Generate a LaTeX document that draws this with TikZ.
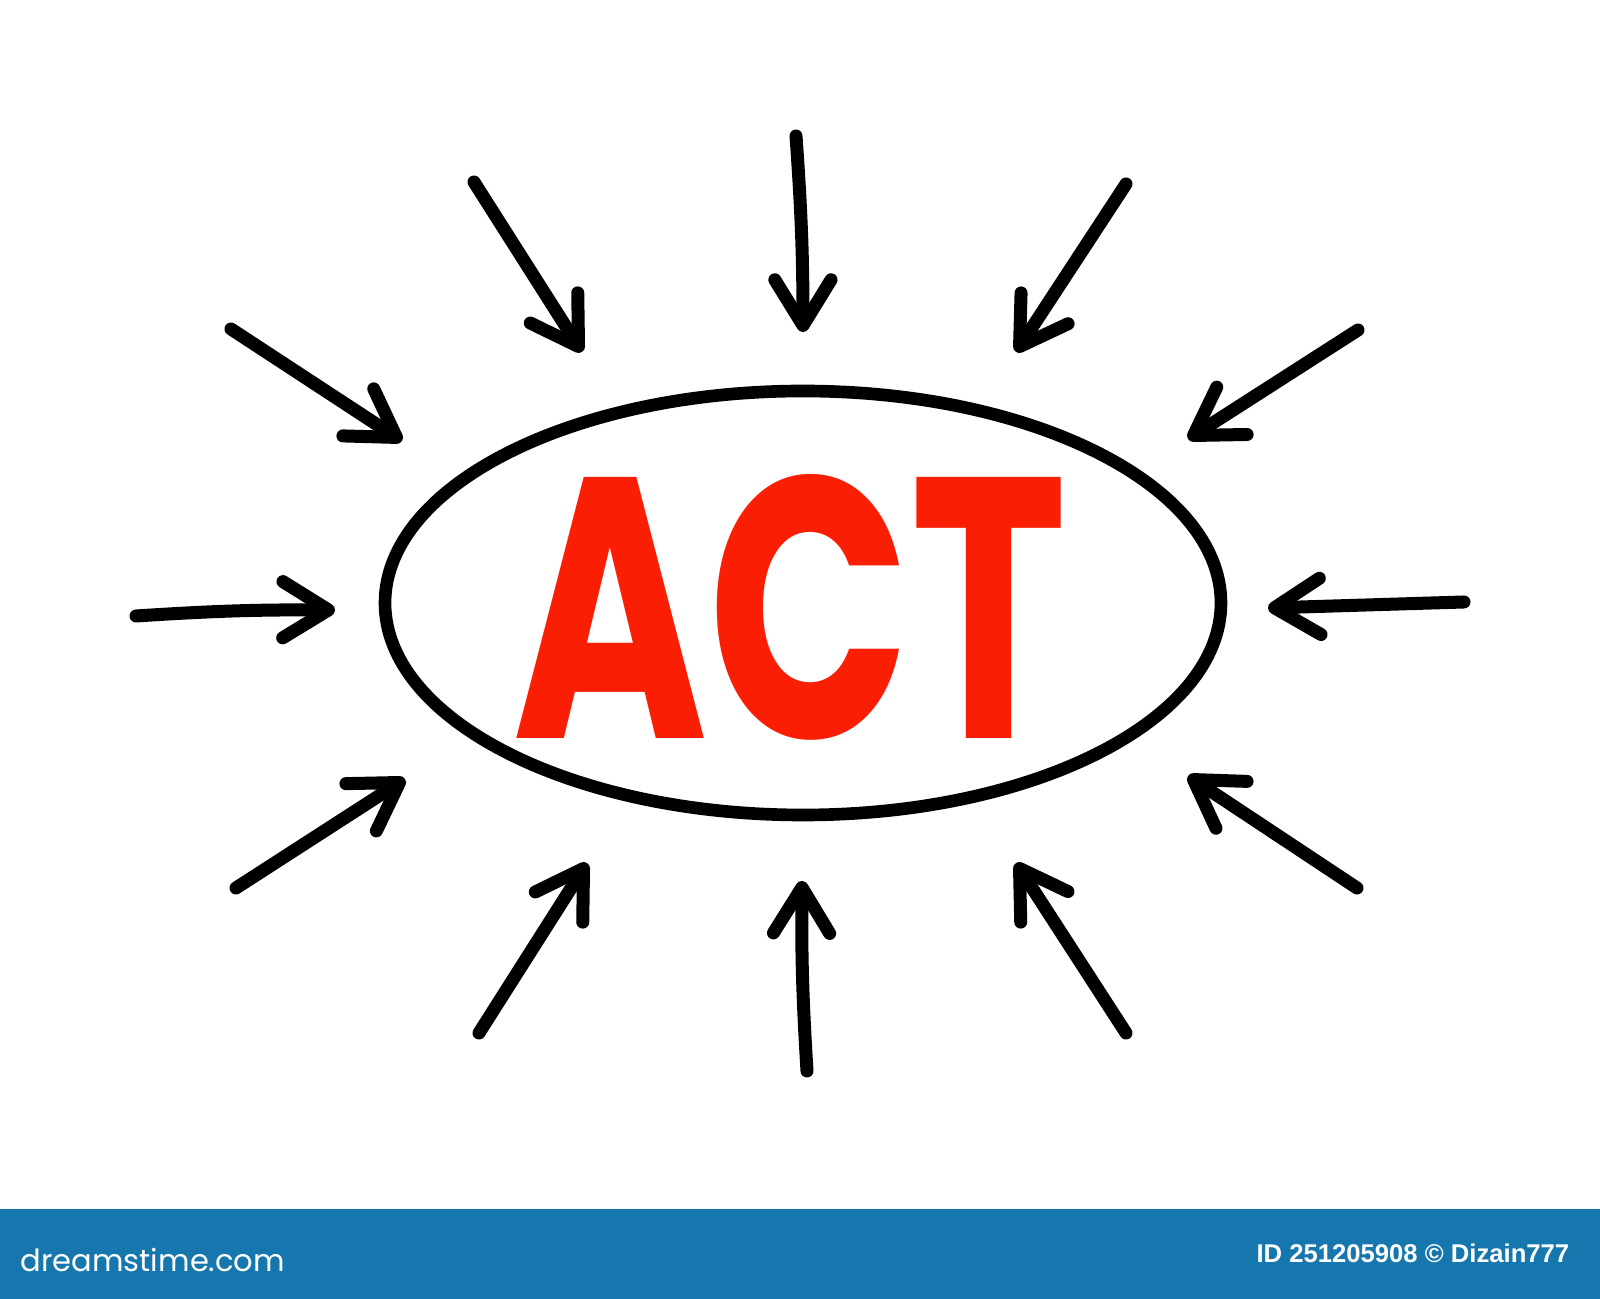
\documentclass[tikz,border=0pt]{standalone}
\usepackage{fontspec}
\setmainfont{Poppins}
\newfontfamily\idfont{Liberation Sans}
\usetikzlibrary{arrows.meta,shapes.geometric}
\definecolor{actred}{RGB}{250,30,5}
\definecolor{bannerblue}{RGB}{22,119,175}
\tikzset{
  push/.style={line width=3.7pt, line cap=round,
    -{Straight Barb[length=13pt,width=16pt,line cap=round,line join=round]}},
}
\begin{document}
\begin{tikzpicture}[x=0.1mm, y=-0.1mm]
    \useasboundingbox (0,0) rectangle (1600,1299);
    \fill[white] (0,0) rectangle (1600,1299);

    % Ellipse and word
    \node[draw, ellipse, line width=3.6pt, minimum width=83.6mm, minimum height=42.4mm] (act) at (803,603) {};
    \node[text=actred, xscale=0.7, yscale=0.98, font=\bfseries\fontsize{108}{108}\selectfont] (word) at (790,607) {ACT};

    % Arrow ends
    \coordinate (t1) at (796,136);   \coordinate (h1) at (803,332);
    \coordinate (t2) at (474,182);   \coordinate (h2) at (582,352);
    \coordinate (t3) at (1126,184);  \coordinate (h3) at (1016,352);
    \coordinate (t4) at (231,329);   \coordinate (h4) at (402,441);
    \coordinate (t5) at (1358,330);  \coordinate (h5) at (1188,439);
    \coordinate (t6) at (136,616);   \coordinate (h6) at (335,610);
    \coordinate (t7) at (1464,602);  \coordinate (h7) at (1268,608);
    \coordinate (t8) at (236,888);   \coordinate (h8) at (405,779);
    \coordinate (t9) at (1357,888);  \coordinate (h9) at (1188,776);
    \coordinate (t10) at (479,1033); \coordinate (h10) at (587,863);
    \coordinate (t11) at (807,1071); \coordinate (h11) at (802,881);
    \coordinate (t12) at (1126,1033);\coordinate (h12) at (1016,863);

    % Arrows
    \draw[push] (t1) to[bend left=2] (h1);
    \draw[push] (t2) -- (h2);
    \draw[push] (t3) -- (h3);
    \draw[push] (t4) -- (h4);
    \draw[push] (t5) -- (h5);
    \draw[push] (t6) to[bend left=2] (h6);
    \draw[push] (t7) -- (h7);
    \draw[push] (t8) -- (h8);
    \draw[push] (t9) -- (h9);
    \draw[push] (t10) -- (h10);
    \draw[push] (t11) to[bend left=2] (h11);
    \draw[push] (t12) -- (h12);

    % Banner
    \fill[bannerblue] (0,1209) rectangle (1600,1299);
    \node[anchor=base west, text=white, inner sep=0pt, font=\fontsize{8.7}{11}\selectfont] (site) at (20,1272) {dreamstime.com};
    \node[anchor=base east, text=white, inner sep=0pt, font=\idfont\bfseries\fontsize{7.3}{9}\selectfont] (credit) at (1570,1263) {ID 251205908 © Dizain777};
\end{tikzpicture}
\end{document}
